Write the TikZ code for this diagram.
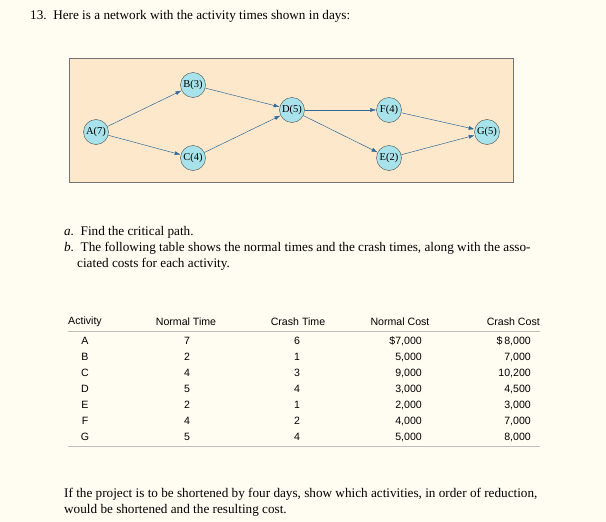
\documentclass[tikz,border=0pt]{standalone}
\usepackage{fontspec}
\setmainfont{Liberation Serif}
\setsansfont{Liberation Sans}
\usetikzlibrary{arrows.meta}
\definecolor{bg}{HTML}{FFFDF2}
\definecolor{boxc}{HTML}{FDE8CB}
\definecolor{nodec}{HTML}{A8E2EA}
\definecolor{arr}{HTML}{2F6A9A}
\begin{document}
\begin{tikzpicture}[x=1pt,y=-1pt,
  act/.style={circle,draw=black!70,fill=nodec,minimum size=25pt,inner sep=0pt,font=\fontsize{10.5}{11}\selectfont},
  link/.style={draw=arr,-{Latex[length=6pt,width=4pt]},line width=0.5pt},
  body/.style={anchor=west,font=\fontsize{13.2}{14}\selectfont,inner sep=0pt},
  tab/.style={font=\sffamily\fontsize{10.6}{11}\selectfont,inner sep=0pt}]
\path[fill=bg] (0,0) rectangle (606,522);
\useasboundingbox (0,0) rectangle (606,522);
\node[body] (t13) at (30,16) {13.\ \ Here is a network with the activity times shown in days:};
\draw[fill=boxc,draw=black!55] (69,58) rectangle (513,182);
\node[act] (A) at (96,132) {A(7)};
\node[act] (B) at (193,85) {B(3)};
\node[act] (C) at (193,158) {C(4)};
\node[act] (D) at (292,110) {D(5)};
\node[act] (F) at (389,110) {F(4)};
\node[act] (E) at (389,158) {E(2)};
\node[act] (G) at (487,132) {G(5)};
\foreach \a/\b in {A/B,A/C,B/D,C/D,D/F,D/E,F/G,E/G} \draw[link] (\a) -- (\b);
\node[body] (qa) at (64,232) {\textit{a.}\ \ Find the critical path.};
\node[body] (qb) at (64,248) {\textit{b.}\ \ The following table shows the normal times and the crash times, along with the asso-};
\node[body] (qb2) at (77,264) {ciated costs for each activity.};
\node[tab,anchor=west] (h1) at (68,322) {Activity};
\node[tab] (h2) at (186,322) {Normal Time};
\node[tab] (h3) at (298,322) {Crash Time};
\node[tab] (h4) at (400,322) {Normal Cost};
\node[tab,anchor=east] (h5) at (540,322) {Crash Cost};
\draw[black!25,line width=0.6pt] (68,331) -- (540,331);
\foreach \l/\n/\c/\nc/\cc [count=\i from 0] in {A/7/6/{\$7,000}/{\$\,8,000},B/2/1/{5,000}/{7,000},C/4/3/{9,000}/{10,200},D/5/4/{3,000}/{4,500},E/2/1/{2,000}/{3,000},F/4/2/{4,000}/{7,000},G/5/4/{5,000}/{8,000}}{
  \node[tab] (r\i a) at (85,341+16*\i) {\l};
  \node[tab] (r\i b) at (187,341+16*\i) {\n};
  \node[tab] (r\i c) at (297,341+16*\i) {\c};
  \node[tab,anchor=east] (r\i d) at (422,341+16*\i) {\nc};
  \node[tab,anchor=east] (r\i e) at (531,341+16*\i) {\cc};
}
\draw[black!25,line width=1pt] (68,446) -- (540,446);
\node[body] (f1) at (64,494) {If the project is to be shortened by four days, show which activities, in order of reduction,};
\node[body] (f2) at (64,510) {would be shortened and the resulting cost.};
\end{tikzpicture}
\end{document}
